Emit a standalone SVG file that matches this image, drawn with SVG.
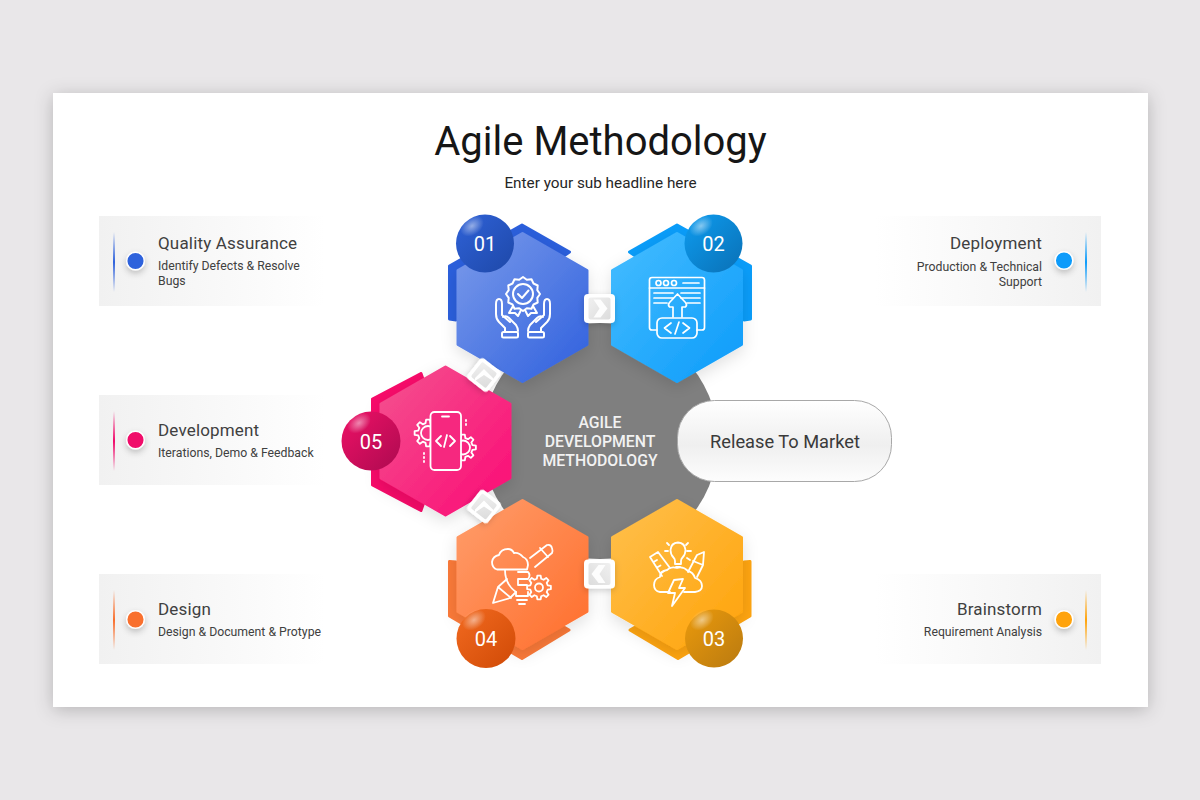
<svg xmlns="http://www.w3.org/2000/svg" xmlns:xlink="http://www.w3.org/1999/xlink" width="1200" height="800" viewBox="0 0 1200 800">
<style>
text{font-family:Roboto,"Liberation Sans",sans-serif}
.ttl{font-size:17px;fill:#404040;letter-spacing:.17px}
.sub{font-size:12.250px;fill:#404040}
.end{text-anchor:end}
.num{font-size:20px;fill:#fff;text-anchor:middle}
.mid{font-size:15.800px;font-weight:500;fill:#f2f2f2;text-anchor:middle}
.ic{fill:none;stroke:#fff;stroke-width:2;stroke-linecap:round;stroke-linejoin:round}
.back{stroke-width:3;stroke-linejoin:round}
.gl{fill:url(#gloss)}
</style>
<defs>
<filter id="card" x="-5%" y="-5%" width="110%" height="112%"><feDropShadow dx="0" dy="3" stdDeviation="9" flood-color="#000" flood-opacity=".22"/></filter>
<filter id="soft" x="-30%" y="-30%" width="160%" height="160%"><feDropShadow dx="0" dy="5" stdDeviation="8" flood-color="#000" flood-opacity=".12"/></filter>
<filter id="tile" x="-40%" y="-40%" width="180%" height="180%"><feDropShadow dx="0" dy="2" stdDeviation="3" flood-color="#000" flood-opacity=".18"/></filter>
<filter id="dot" x="-80%" y="-80%" width="260%" height="260%"><feDropShadow dx="0" dy="3" stdDeviation="3" flood-color="#000" flood-opacity=".22"/></filter>
<linearGradient id="pl"><stop offset="0" stop-color="#f1f1f1"/><stop offset="1" stop-color="#fff"/></linearGradient>
<linearGradient id="pr"><stop offset="0" stop-color="#fff"/><stop offset="1" stop-color="#f1f1f1"/></linearGradient>
<linearGradient id="h1" x1="0" y1="0" x2="1" y2="1"><stop offset="0" stop-color="#7a9aea"/><stop offset="1" stop-color="#2f60de"/></linearGradient>
<linearGradient id="h2" x1="0" y1="0" x2="1" y2="1"><stop offset="0" stop-color="#45bdff"/><stop offset="1" stop-color="#0c9bfa"/></linearGradient>
<linearGradient id="h3" x1="0" y1="0" x2="1" y2="1"><stop offset="0" stop-color="#ffc04d"/><stop offset="1" stop-color="#ffa309"/></linearGradient>
<linearGradient id="h4" x1="0" y1="0" x2="1" y2="1"><stop offset="0" stop-color="#ff9d6b"/><stop offset="1" stop-color="#ff6e2c"/></linearGradient>
<linearGradient id="h5" x1="0" y1="0" x2="1" y2="1"><stop offset="0" stop-color="#f4528f"/><stop offset="1" stop-color="#fb0a75"/></linearGradient>
<linearGradient id="s1" x1="0" y1="0" x2="1" y2="1"><stop offset="0" stop-color="#2f62d8"/><stop offset="1" stop-color="#1e48a8"/></linearGradient>
<linearGradient id="s2" x1="0" y1="0" x2="1" y2="1"><stop offset="0" stop-color="#0d9cf0"/><stop offset="1" stop-color="#0a70b5"/></linearGradient>
<linearGradient id="s3" x1="0" y1="0" x2="1" y2="1"><stop offset="0" stop-color="#eb9a0c"/><stop offset="1" stop-color="#b97a10"/></linearGradient>
<linearGradient id="s4" x1="0" y1="0" x2="1" y2="1"><stop offset="0" stop-color="#f26a20"/><stop offset="1" stop-color="#d04a06"/></linearGradient>
<linearGradient id="s5" x1="0" y1="0" x2="1" y2="1"><stop offset="0" stop-color="#ee1166"/><stop offset="1" stop-color="#ad0a50"/></linearGradient>
<radialGradient id="gloss"><stop offset="0" stop-color="#fff" stop-opacity=".5"/><stop offset="1" stop-color="#fff" stop-opacity="0"/></radialGradient>
<linearGradient id="pill" x1="0" y1="0" x2="0" y2="1"><stop offset="0" stop-color="#fff"/><stop offset=".55" stop-color="#efefef"/><stop offset="1" stop-color="#fdfdfd"/></linearGradient>
<linearGradient id="tg" x1="0" y1="0" x2="1" y2="1"><stop offset="0" stop-color="#f0f0f0"/><stop offset="1" stop-color="#dcdcdc"/></linearGradient>
<linearGradient id="l1" x1="0" y1="0" x2="0" y2="1"><stop offset="0" stop-color="#2f62dc" stop-opacity="0"/><stop offset=".5" stop-color="#2f62dc"/><stop offset="1" stop-color="#2f62dc" stop-opacity="0"/></linearGradient>
<linearGradient id="l2" x1="0" y1="0" x2="0" y2="1"><stop offset="0" stop-color="#0c9bfa" stop-opacity="0"/><stop offset=".5" stop-color="#0c9bfa"/><stop offset="1" stop-color="#0c9bfa" stop-opacity="0"/></linearGradient>
<linearGradient id="l3" x1="0" y1="0" x2="0" y2="1"><stop offset="0" stop-color="#ffa309" stop-opacity="0"/><stop offset=".5" stop-color="#ffa309"/><stop offset="1" stop-color="#ffa309" stop-opacity="0"/></linearGradient>
<linearGradient id="l4" x1="0" y1="0" x2="0" y2="1"><stop offset="0" stop-color="#f96f2d" stop-opacity="0"/><stop offset=".5" stop-color="#f96f2d"/><stop offset="1" stop-color="#f96f2d" stop-opacity="0"/></linearGradient>
<linearGradient id="l5" x1="0" y1="0" x2="0" y2="1"><stop offset="0" stop-color="#f0096a" stop-opacity="0"/><stop offset=".5" stop-color="#f0096a"/><stop offset="1" stop-color="#f0096a" stop-opacity="0"/></linearGradient>
<polygon id="hex" stroke-width="3" stroke-linejoin="round" points="0,-74 64.5,-37 64.5,37 0,74 -64.5,37 -64.5,-37"/>
<path id="gear" d="M7.28-1.81 9.9-1.39 9.9 1.39 7.28 1.81 6.43 3.86 7.99 6.02 6.02 7.99 3.86 6.43 1.81 7.28 1.39 9.9-1.39 9.9-1.81 7.28-3.86 6.43-6.02 7.99-7.99 6.02-6.43 3.86-7.28 1.81-9.9 1.39-9.9-1.39-7.28-1.81-6.43-3.86-7.99-6.02-6.02-7.99-3.86-6.43-1.81-7.28-1.39-9.9 1.39-9.9 1.81-7.28 3.86-6.43 6.02-7.99 7.99-6.02 6.43-3.86Z"/>
<g id="tileH"><rect x="-15.5" y="-14.5" width="31" height="29" rx="4" fill="#fff" filter="url(#tile)"/><rect x="-11" y="-11" width="22" height="22" rx="2" fill="url(#tg)"/><polygon points="-6,-9 1,-9 8,0 1,9 -6,9 0,0" fill="#fff" opacity=".9"/></g>
<g id="tileD"><rect x="-13" y="-13" width="26" height="26" rx="4" fill="#fff" filter="url(#tile)" transform="rotate(38)"/><rect x="-9.500" y="-9.500" width="19" height="19" rx="2" fill="url(#tg)" transform="rotate(38)"/><polygon points="-9,3 0,-6 9,3 9,6 0,0 -9,6" fill="#fff"/></g>
</defs>

<rect width="1200" height="800" fill="#e9e7e9"/>
<rect x="53" y="93" width="1095" height="614" fill="#fff" filter="url(#card)"/>
<text x="600.500" y="155" fill="#161616" text-anchor="middle" style="font-size:40px">Agile Methodology</text>
<text x="600.500" y="188" fill="#262626" text-anchor="middle" style="font-size:15.300px">Enter your sub headline here</text>

<g id="panel-quality">
<rect x="99" y="216" width="226" height="90" fill="url(#pl)"/>
<rect x="113" y="232" width="2" height="60" fill="url(#l1)"/>
<circle cx="135.500" cy="261" r="8.800" fill="#2f62dc" stroke="#fff" stroke-width="1.500" filter="url(#dot)"/>
<text class="ttl" x="158" y="249">Quality Assurance</text>
<text class="sub" x="158" y="270">Identify Defects &amp; Resolve</text>
<text class="sub" x="158" y="285">Bugs</text>
</g>
<g id="panel-development">
<rect x="99" y="395" width="226" height="90" fill="url(#pl)"/>
<rect x="113" y="411" width="2" height="60" fill="url(#l5)"/>
<circle cx="135.500" cy="440" r="8.800" fill="#f0096a" stroke="#fff" stroke-width="1.500" filter="url(#dot)"/>
<text class="ttl" x="158" y="436">Development</text>
<text class="sub" x="158" y="457">Iterations, Demo &amp; Feedback</text>
</g>
<g id="panel-design">
<rect x="99" y="574" width="226" height="90" fill="url(#pl)"/>
<rect x="113" y="590" width="2" height="60" fill="url(#l4)"/>
<circle cx="135.500" cy="619.500" r="8.800" fill="#f96f2d" stroke="#fff" stroke-width="1.500" filter="url(#dot)"/>
<text class="ttl" x="158" y="615">Design</text>
<text class="sub" x="158" y="636">Design &amp; Document &amp; Protype</text>
</g>
<g id="panel-deployment">
<rect x="875" y="216" width="226" height="90" fill="url(#pr)"/>
<rect x="1085" y="232" width="2" height="60" fill="url(#l2)"/>
<circle cx="1064" cy="260.500" r="8.800" fill="#0c9bfa" stroke="#fff" stroke-width="1.500" filter="url(#dot)"/>
<text class="ttl end" x="1042" y="249">Deployment</text>
<text class="sub end" x="1042" y="271">Production &amp; Technical</text>
<text class="sub end" x="1042" y="286">Support</text>
</g>
<g id="panel-brainstorm">
<rect x="875" y="574" width="226" height="90" fill="url(#pr)"/>
<rect x="1085" y="590" width="2" height="60" fill="url(#l3)"/>
<circle cx="1064" cy="619.500" r="8.800" fill="#ffa309" stroke="#fff" stroke-width="1.500" filter="url(#dot)"/>
<text class="ttl end" x="1042" y="615">Brainstorm</text>
<text class="sub end" x="1042" y="636">Requirement Analysis</text>
</g>

<g id="center">
<circle cx="600" cy="441" r="118" fill="#7f7f7f"/>
<text class="mid" x="600" y="428">AGILE</text>
<text class="mid" x="600" y="447">DEVELOPMENT</text>
<text class="mid" x="600" y="466">METHODOLOGY</text>
</g>
<g id="release">
<rect x="677.500" y="400.500" width="214" height="81" rx="37" fill="url(#pill)" stroke="#a8a8a8"/>
<text x="785" y="448" fill="#3a3a3a" text-anchor="middle" style="font-size:18.250px">Release To Market</text>
</g>

<g id="node-01">
<path class="back" fill="#2b5fdc" stroke="#2b5fdc" d="M522 225 569.500 252 500 300 456 320 449.500 319 449.500 266Z"/>
<use xlink:href="#hex" href="#hex" transform="translate(522.500 307.500)" fill="url(#h1)" stroke="url(#h1)" filter="url(#soft)"/>
<g class="ic">
<path d="M540 294 537.300 290.200 537.700 285.500 533.500 283.500 531.500 279.300 526.800 279.700 523 277 519.200 279.700 514.500 279.300 512.500 283.500 508.300 285.500 508.700 290.200 506 294 508.700 297.800 508.300 302.500 512.500 304.500 514.500 308.700 519.200 308.300 523 311 526.800 308.300 531.500 308.700 533.500 304.500 537.700 302.500 537.300 297.800Z"/>
<circle cx="523" cy="294" r="10"/>
<path d="M518 294 522 298 528.500 290.500"/>
<path d="M513 306 509 313 515 313 518 316 521 310M533 306 537 313 531 313 528 316 525 310"/>
<path d="M505 331V328L499 322Q496 319 496 314V304Q496 299 499 299 502 299 502 304V315L510 322M503 317Q506 315 509 318L516 325Q518 328 518 331"/>
<rect x="502" y="332" width="16" height="5.500" rx="1.500"/>
<g transform="translate(1046 0) scale(-1 1)"><path d="M505 331V328L499 322Q496 319 496 314V304Q496 299 499 299 502 299 502 304V315L510 322M503 317Q506 315 509 318L516 325Q518 328 518 331"/><rect x="502" y="332" width="16" height="5.500" rx="1.500"/></g>
</g>
<circle cx="485" cy="243.500" r="29" fill="url(#s1)"/>
<ellipse cx="472" cy="226" rx="13" ry="9" class="gl" transform="rotate(-35 472 226)"/>
<text class="num" x="485" y="251">01</text>
</g>

<g id="node-02">
<path class="back" fill="#0a9dfa" stroke="#0a9dfa" d="M677 225 629.500 252 700 300 744 320 750.500 319 750.500 266Z"/>
<use xlink:href="#hex" href="#hex" transform="translate(677 307.500)" fill="url(#h2)" stroke="url(#h2)" filter="url(#soft)"/>
<g class="ic" style="stroke-width:1.700px">
<path d="M657 330H652Q649.500 330 649.500 327.500V280Q649.500 277.500 652 277.500H702Q704.500 277.500 704.500 280V327.500Q704.500 330 702 330H697"/>
<path d="M649.500 288H704.500"/>
<circle cx="658.500" cy="283" r="2.500"/><circle cx="666" cy="283" r="2.500"/><circle cx="674" cy="283" r="2.500"/>
<path d="M683 283H699M654 293H673M654 298H673M654 303H667M681 293H700M681 298H700M687 303H700"/>
<path d="M673 317V307H669.500Q667.500 305 669.500 302.500L677.500 294 685.500 302.500Q687.500 305 685.500 307H682V317"/>
<rect x="657" y="318" width="40" height="20" rx="5"/>
<path d="M671 323 664.500 328 671 333M683 323 689.500 328 683 333M679 322 675 334"/>
</g>
<circle cx="713.500" cy="243.500" r="29" fill="url(#s2)"/>
<ellipse cx="701" cy="226" rx="13" ry="9" class="gl" transform="rotate(-35 701 226)"/>
<text class="num" x="713.500" y="251">02</text>
</g>

<g id="node-03">
<path class="back" fill="#ffa511" stroke="#ffa511" d="M678 658.500 630 630 700 590 744 562 750 561.500 750 616Z"/>
<use xlink:href="#hex" href="#hex" transform="translate(677 574.500)" fill="url(#h3)" stroke="url(#h3)" filter="url(#soft)"/>
<g class="ic" style="stroke-width:1.800px">
<path d="M675 564V561Q675 559 673.500 557.500 670.500 554.500 670.500 550 671 543 678 542.500 685 543 685.500 550 685.500 554.500 682.500 557.500 681 559 681 561V564ZM676 567H680"/>
<path d="M667 543 669 545M665 551H668M688 543 686 545M687 551H691M687 558 690 560"/>
<path d="M662 576 650 557 658 552 670 568M653.500 562 657 560M657 567.500 660.500 565.500M661 573 664 571"/>
<path d="M688 572 697 555 704 552 703 565 697 577M693 561 703 565"/>
<path d="M670 592H660Q654 591 654 585 654 579 660 577 660 571 667 570 671 566 677 568 683 566 688 571 693 572 695 578 702 580 702 586 702 591 695 592H684"/>
<path d="M674 580 683 579 679 588H685L672 606 675 593H668Z"/>
</g>
<circle cx="714" cy="638.500" r="29" fill="url(#s3)"/>
<ellipse cx="702" cy="620" rx="13" ry="9" class="gl" transform="rotate(-35 702 620)"/>
<text class="num" x="714" y="646">03</text>
</g>

<g id="node-04">
<path class="back" fill="#fb7a39" stroke="#fb7a39" d="M522 658.500 569 630 500 590 456 562 449.500 561.500 449.500 616Z"/>
<use xlink:href="#hex" href="#hex" transform="translate(522.500 574.500)" fill="url(#h4)" stroke="url(#h4)" filter="url(#soft)"/>
<g class="ic" style="stroke-width:1.800px">
<path d="M527 569.500H497Q492 568 492 562 493 556 499 555 501 549 508 549 512 549 514 553 519 552 523 557 528 559 528 565Z"/>
<path d="M505 570Q505 584 516 592V596H528V592"/>
<path d="M517 600H527M519 604H525"/>
<path d="M518 572H528Q531 575 528 579H518V585H527"/>
<path d="M530 558 547 545Q551 544 552 548 553 551 552 553L535 567M540 548 548 557"/>
<path d="M507 579 498 587 493 603 510 598 516 592M498 587 511 598"/>
<use xlink:href="#gear" href="#gear" transform="translate(539 587.500) scale(1.200)" style="stroke-width:1.500px"/>
<circle cx="539" cy="587.500" r="4"/>
</g>
<circle cx="486" cy="638.500" r="29.500" fill="url(#s4)"/>
<ellipse cx="474" cy="620" rx="13" ry="9" class="gl" transform="rotate(-35 474 620)"/>
<text class="num" x="486" y="646">04</text>
</g>

<g id="node-05">
<path class="back" fill="#f80b6a" stroke="#f80b6a" d="M421 373.500 372.500 399 372.500 485 421 510.500 445 441Z"/>
<use xlink:href="#hex" href="#hex" transform="translate(445.500 441)" fill="url(#h5)" stroke="url(#h5)" filter="url(#soft)"/>
<g class="ic" style="stroke-width:1.800px">
<use xlink:href="#gear" href="#gear" transform="translate(428 433) scale(1.350)" style="stroke-width:1.350px"/>
<circle cx="428" cy="433" r="7"/>
<use xlink:href="#gear" href="#gear" transform="translate(463 447.500) scale(1.300)" style="stroke-width:1.400px"/>
<circle cx="463" cy="447.500" r="7"/>
<rect x="430.500" y="412" width="30.500" height="58" rx="4" fill="#f6287f"/>
<path d="M442 416.500H449"/>
<path d="M441 436 436 441 441 446M450 436 455 441 450 446M447 435 444 447"/>
<path d="M466 420V428M424 453V462" stroke-dasharray="1 3"/>
</g>
<circle cx="371" cy="441" r="29.500" fill="url(#s5)"/>
<ellipse cx="359" cy="423" rx="13" ry="9" class="gl" transform="rotate(-35 359 423)"/>
<text class="num" x="371" y="449">05</text>
</g>

<g id="connectors">
<use xlink:href="#tileH" href="#tileH" transform="translate(599.500 308.500)"/>
<use xlink:href="#tileH" href="#tileH" transform="translate(599.500 574) scale(-1 1)"/>
<use xlink:href="#tileD" href="#tileD" transform="translate(484 375)"/>
<use xlink:href="#tileD" href="#tileD" transform="translate(484 506.500)"/>
</g>
</svg>
